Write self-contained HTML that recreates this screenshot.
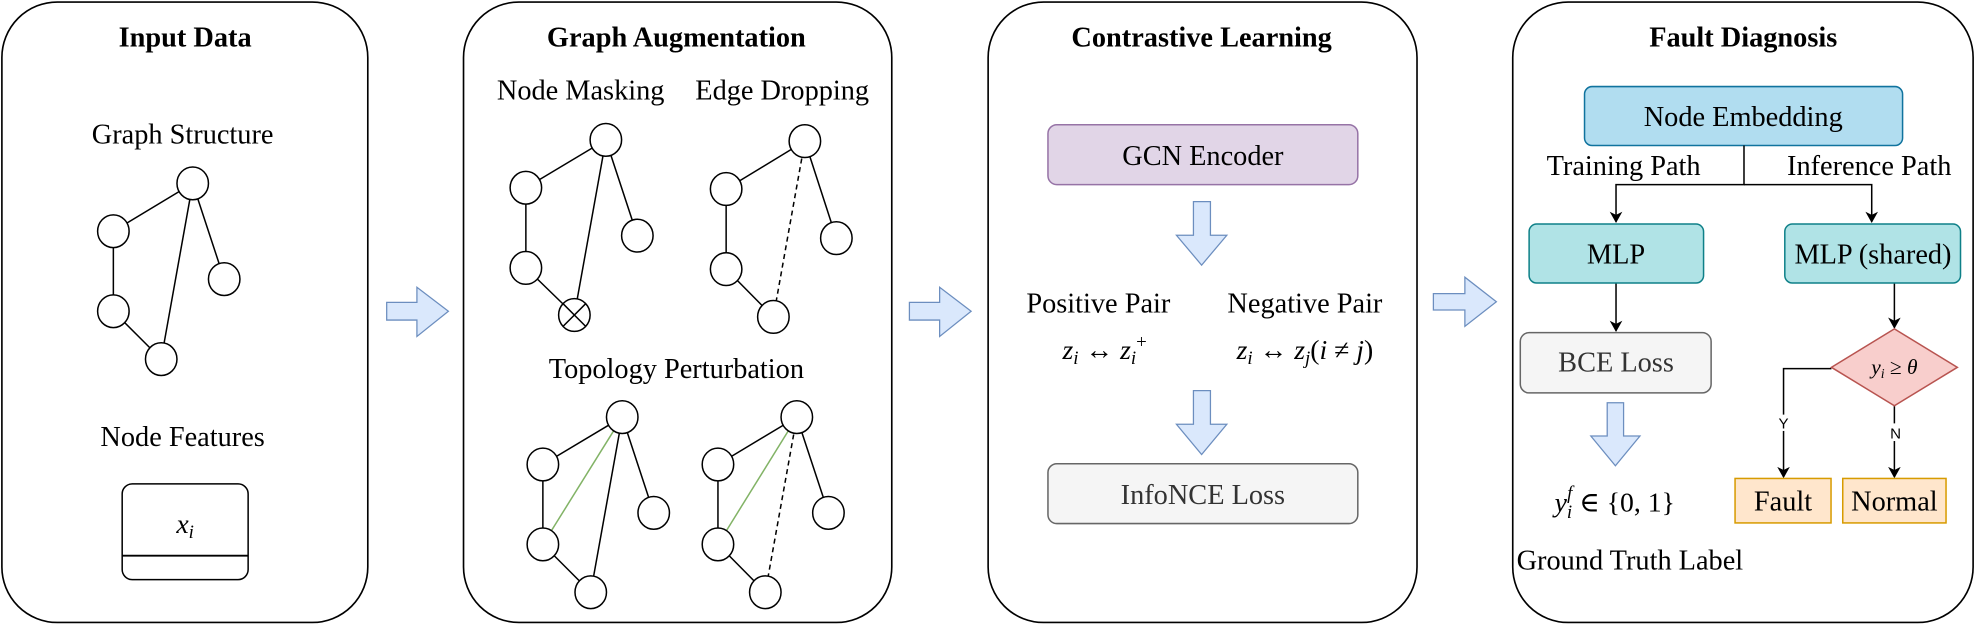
<!DOCTYPE html>
<html><head><meta charset="utf-8"><style>
html,body{margin:0;padding:0;background:#fff;}
svg{display:block;}
text{font-family:"Liberation Serif","DejaVu Serif",serif;fill:#000;}
.t{font-weight:bold;font-size:22.5px;}
.l{font-size:22.5px;}
.m{font-style:italic;font-size:22px;}
</style></head><body>
<svg width="1975" height="625" viewBox="0 0 1568 496" preserveAspectRatio="none" xmlns="http://www.w3.org/2000/svg">
<defs>
<marker id="ar" markerWidth="10" markerHeight="10" refX="8" refY="5" orient="auto" markerUnits="userSpaceOnUse"><path d="M0,0 L9,5 L0,10 L2.5,5 Z" fill="#000"/></marker>
</defs>
<g fill="none" stroke="#000" stroke-width="1.3">
<rect x="1.5" y="1.6" width="290.5" height="492.4" rx="44"/>
<rect x="368" y="1.6" width="340" height="492.4" rx="44"/>
<rect x="784.5" y="1.6" width="340.5" height="492.4" rx="44"/>
<rect x="1201" y="1.6" width="365.5" height="492.4" rx="44"/>
</g>
<g fill="#dae8fc" stroke="#6c8ebf" stroke-width="1">
<path d="M307,240 L331,240 L331,228 L356,247 L331,267 L331,254 L307,254 Z"/>
<path d="M722,240 L746,240 L746,228 L771,247 L746,267 L746,254 L722,254 Z"/>
<path d="M1138,233 L1163,233 L1163,220 L1188,239.5 L1163,259 L1163,246 L1138,246 Z"/>
<path d="M947.5,160 L961,160 L961,186.7 L974,186.7 L954,210.4 L934,186.7 L947.5,186.7 Z"/>
<path d="M947.5,310 L961,310 L961,336.7 L974,336.7 L954,360.7 L934,336.7 L947.5,336.7 Z"/>
<path d="M1276,319.6 L1289,319.6 L1289,346 L1302,346 L1282.5,369.6 L1263,346 L1276,346 Z"/>
</g>
<!-- Panel 1 -->
<text class="t" x="147" y="37" text-anchor="middle">Input Data</text>
<text class="l" x="145" y="114" text-anchor="middle">Graph Structure</text>
<g stroke="#000" stroke-width="1.2" fill="none">
<line x1="153" y1="145.5" x2="90" y2="183.5"/><line x1="90" y1="183.5" x2="90" y2="247"/><line x1="90" y1="247" x2="128" y2="285"/><line x1="153" y1="145.5" x2="128" y2="285"/><line x1="153" y1="145.5" x2="178" y2="221.5"/>
</g>
<g stroke="#000" stroke-width="1.2" fill="#fff">
<ellipse cx="153" cy="145.5" rx="12.5" ry="13"/><ellipse cx="90" cy="183.5" rx="12.5" ry="13"/><ellipse cx="178" cy="221.5" rx="12.5" ry="13"/><ellipse cx="90" cy="247" rx="12.5" ry="13"/><ellipse cx="128" cy="285" rx="12.5" ry="13"/>
</g>
<text class="l" x="145" y="354" text-anchor="middle">Node Features</text>
<rect x="97" y="384" width="100" height="76" rx="8" fill="#fff" stroke="#000" stroke-width="1.2"/>
<line x1="97" y1="441" x2="197" y2="441" stroke="#000" stroke-width="1.5"/>
<text class="m" x="147" y="423" text-anchor="middle">x<tspan font-size="15" dy="4">i</tspan></text>
<!-- Panel 2 -->
<text class="t" x="537" y="37" text-anchor="middle">Graph Augmentation</text>
<text class="l" x="461" y="79" text-anchor="middle">Node Masking</text>
<text class="l" x="621" y="79" text-anchor="middle">Edge Dropping</text>
<g stroke="#000" stroke-width="1.2" fill="none">
<line x1="481" y1="111" x2="417.5" y2="149"/><line x1="417.5" y1="149" x2="417.5" y2="212.6"/><line x1="417.5" y1="212.6" x2="456" y2="250"/><line x1="481" y1="111" x2="456" y2="250"/><line x1="481" y1="111" x2="506" y2="187"/>
<line x1="639" y1="112" x2="576.5" y2="150"/><line x1="576.5" y1="150" x2="576.5" y2="213.6"/><line x1="576.5" y1="213.6" x2="614" y2="251.5"/><line x1="639" y1="112" x2="614" y2="251.5" stroke-dasharray="4,3"/><line x1="639" y1="112" x2="664" y2="189"/>
</g>
<g stroke="#000" stroke-width="1.2" fill="#fff">
<ellipse cx="481" cy="111" rx="12.5" ry="13"/><ellipse cx="417.5" cy="149" rx="12.5" ry="13"/><ellipse cx="506" cy="187" rx="12.5" ry="13"/><ellipse cx="417.5" cy="212.6" rx="12.5" ry="13"/><ellipse cx="456" cy="250" rx="12.5" ry="13"/>
<ellipse cx="639" cy="112" rx="12.5" ry="13"/><ellipse cx="576.5" cy="150" rx="12.5" ry="13"/><ellipse cx="664" cy="189" rx="12.5" ry="13"/><ellipse cx="576.5" cy="213.6" rx="12.5" ry="13"/><ellipse cx="614" cy="251.5" rx="12.5" ry="13"/>
</g>
<g stroke="#000" stroke-width="1.2"><line x1="447.2" y1="241.2" x2="464.8" y2="258.8"/><line x1="464.8" y1="241.2" x2="447.2" y2="258.8"/></g>
<text class="l" x="537" y="300" text-anchor="middle">Topology Perturbation</text>
<g stroke="#000" stroke-width="1.2" fill="none">
<line x1="494" y1="331" x2="431" y2="368.6"/><line x1="431" y1="368.6" x2="431" y2="432"/><line x1="431" y1="432" x2="469" y2="470"/><line x1="494" y1="331" x2="469" y2="470"/><line x1="494" y1="331" x2="519" y2="407"/>
<line x1="632.6" y1="331" x2="570" y2="368.6"/><line x1="570" y1="368.6" x2="570" y2="432"/><line x1="570" y1="432" x2="607.6" y2="470"/><line x1="632.6" y1="331" x2="607.6" y2="470" stroke-dasharray="4,3"/><line x1="632.6" y1="331" x2="657.7" y2="407"/>
<line x1="494" y1="331" x2="431" y2="432" stroke="#82b366"/><line x1="632.6" y1="331" x2="570" y2="432" stroke="#82b366"/>
</g>
<g stroke="#000" stroke-width="1.2" fill="#fff">
<ellipse cx="494" cy="331" rx="12.5" ry="13"/><ellipse cx="431" cy="368.6" rx="12.5" ry="13"/><ellipse cx="519" cy="407" rx="12.5" ry="13"/><ellipse cx="431" cy="432" rx="12.5" ry="13"/><ellipse cx="469" cy="470" rx="12.5" ry="13"/>
<ellipse cx="632.6" cy="331" rx="12.5" ry="13"/><ellipse cx="570" cy="368.6" rx="12.5" ry="13"/><ellipse cx="657.7" cy="407" rx="12.5" ry="13"/><ellipse cx="570" cy="432" rx="12.5" ry="13"/><ellipse cx="607.6" cy="470" rx="12.5" ry="13"/>
</g>
<!-- Panel 3 -->
<text class="t" x="954" y="37" text-anchor="middle">Contrastive Learning</text>
<rect x="832" y="99" width="246" height="47.5" rx="7" fill="#e1d5e7" stroke="#9673a6" stroke-width="1.2"/>
<text class="l" x="955" y="131" text-anchor="middle">GCN Encoder</text>
<text class="l" x="872" y="248" text-anchor="middle">Positive Pair</text>
<text class="l" x="1036" y="248" text-anchor="middle">Negative Pair</text>
<text class="m" x="877" y="285" text-anchor="middle">z<tspan font-size="15" dy="4">i</tspan><tspan dy="-4" font-style="normal"> ↔ </tspan>z<tspan font-size="15" dy="4">i</tspan><tspan font-size="15" dy="-13" font-style="normal">+</tspan></text>
<text class="m" x="1036" y="285" text-anchor="middle">z<tspan font-size="15" dy="4">i</tspan><tspan dy="-4" font-style="normal"> ↔ </tspan>z<tspan font-size="15" dy="4">j</tspan><tspan dy="-4" font-style="normal">(</tspan>i<tspan font-style="normal"> ≠ </tspan>j<tspan font-style="normal">)</tspan></text>
<rect x="832" y="368" width="246" height="47.5" rx="7" fill="#f5f5f5" stroke="#666" stroke-width="1.2"/>
<text class="l" x="955" y="400" text-anchor="middle" style="fill:#333">InfoNCE Loss</text>
<!-- Panel 4 -->
<text class="t" x="1384" y="37" text-anchor="middle">Fault Diagnosis</text>
<rect x="1258" y="68.7" width="252.5" height="46.8" rx="6" fill="#b1ddf0" stroke="#10739e" stroke-width="1.2"/>
<text class="l" x="1384" y="100" text-anchor="middle">Node Embedding</text>
<text class="l" x="1289" y="139" text-anchor="middle">Training Path</text>
<text class="l" x="1484" y="139" text-anchor="middle">Inference Path</text>
<g stroke="#000" stroke-width="1.2" fill="none">
<polyline points="1384.6,115.5 1384.6,146.5 1283,146.5 1283,176" marker-end="url(#ar)"/>
<polyline points="1384.6,146.5 1486,146.5 1486,176" marker-end="url(#ar)"/>
<line x1="1283" y1="224.6" x2="1283" y2="262.5" marker-end="url(#ar)"/>
<line x1="1504" y1="224.6" x2="1504" y2="260" marker-end="url(#ar)"/>
<polyline points="1454,292.5 1416,292.5 1416,329"/>
<line x1="1416" y1="342" x2="1416" y2="378.5" marker-end="url(#ar)"/>
<line x1="1504" y1="322" x2="1504" y2="336"/>
<line x1="1504" y1="350" x2="1504" y2="378.5" marker-end="url(#ar)"/>
</g>
<text x="1416" y="340" text-anchor="middle" style="font-family:'Liberation Sans',sans-serif;font-size:12px">Y</text>
<text x="1505" y="348" text-anchor="middle" style="font-family:'Liberation Sans',sans-serif;font-size:12px">N</text>
<rect x="1214" y="177.8" width="138.5" height="46.8" rx="6" fill="#b0e3e6" stroke="#0e8088" stroke-width="1.2"/>
<text class="l" x="1283" y="209" text-anchor="middle">MLP</text>
<rect x="1417" y="177.8" width="139.5" height="46.8" rx="6" fill="#b0e3e6" stroke="#0e8088" stroke-width="1.2"/>
<text class="l" x="1487" y="209" text-anchor="middle">MLP (shared)</text>
<rect x="1207" y="264" width="151.5" height="47.8" rx="7" fill="#f5f5f5" stroke="#666" stroke-width="1.2"/>
<text class="l" x="1283" y="295" text-anchor="middle" style="fill:#333">BCE Loss</text>
<polygon points="1504,261 1554,291.5 1504,322 1454,291.5" fill="#f8cecc" stroke="#b85450" stroke-width="1.2"/>
<text class="m" x="1504" y="297" text-anchor="middle" style="font-size:17px">y<tspan font-size="11" dy="3">i</tspan><tspan dy="-3" font-style="normal"> ≥ </tspan>θ</text>
<text class="m" x="1282" y="406" text-anchor="middle">y<tspan font-size="15" dy="5">i</tspan><tspan font-size="15" dx="-4" dy="-15">f</tspan><tspan dy="10" font-style="normal"> ∈ {0, 1}</tspan></text>
<text class="l" x="1294" y="452" text-anchor="middle">Ground Truth Label</text>
<rect x="1377.5" y="379.7" width="76.2" height="35.3" fill="#ffe6cc" stroke="#d79b00" stroke-width="1.2"/>
<text class="l" x="1415.6" y="405" text-anchor="middle">Fault</text>
<rect x="1463" y="379.7" width="82" height="35.3" fill="#ffe6cc" stroke="#d79b00" stroke-width="1.2"/>
<text class="l" x="1504" y="405" text-anchor="middle">Normal</text>
</svg>
</body></html>
